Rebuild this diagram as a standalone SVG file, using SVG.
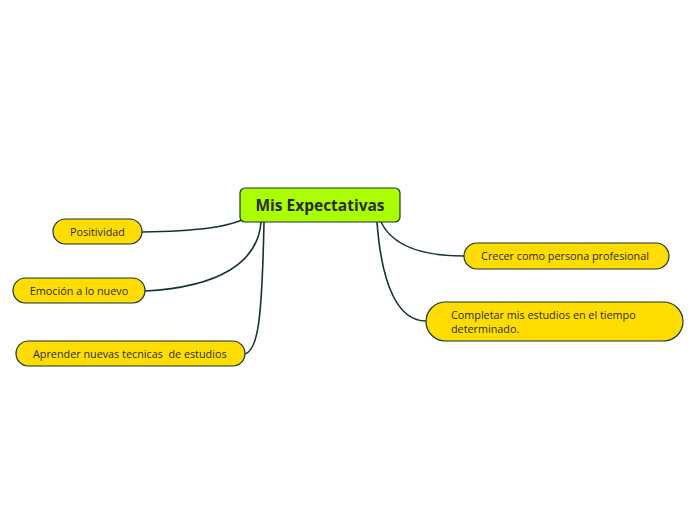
<svg xmlns="http://www.w3.org/2000/svg" width="696" height="520" viewBox="0 0 696 520">
<style>
.c{fill:none;stroke:#173232;stroke-width:1.6}
.n{fill:#ffdd00;stroke:#173232;stroke-width:1.2}
.r{fill:#aaff00;stroke:#173232;stroke-width:1.2}
.t{font-family:"Open Sans","Noto Sans",sans-serif;font-size:10.8px;fill:#2b2b2b;white-space:pre}
.h{font-family:"Open Sans","Noto Sans",sans-serif;font-size:15.5px;font-weight:bold;fill:#2b2b2b}
</style>
<rect width="696" height="520" fill="#ffffff"/>
<g id="connectors">
<path class="c" d="M142,232 C200,231 225,227 242,220"/>
<path class="c" d="M145,291 C220,287 258,262 261,222"/>
<path class="c" d="M245,354 C258,350 262,320 264,222"/>
<path class="c" d="M381,222 C392,245 420,256 464,256"/>
<path class="c" d="M377,222 C382,290 400,321 426,321"/>
</g>
<g id="root">
<rect class="r" x="240" y="188" width="160" height="34" rx="5"/>
<text class="h" x="320" y="211" text-anchor="middle">Mis Expectativas</text>
</g>
<g id="n1">
<rect class="n" x="53" y="219" width="89" height="25" rx="12.5"/>
<text class="t" x="97.5" y="235.5" text-anchor="middle">Positividad</text>
</g>
<g id="n2">
<rect class="n" x="13" y="278" width="132" height="25" rx="12.5"/>
<text class="t" x="79" y="294.5" text-anchor="middle">Emoción a lo nuevo</text>
</g>
<g id="n3">
<rect class="n" x="16" y="341" width="229" height="25" rx="12.5"/>
<text class="t" x="33" y="357.5" xml:space="preserve">Aprender nuevas tecnicas  de estudios</text>
</g>
<g id="n4">
<rect class="n" x="464" y="243" width="205" height="26" rx="13"/>
<text class="t" x="565" y="259.5" text-anchor="middle">Crecer como persona profesional</text>
</g>
<g id="n5">
<rect class="n" x="426" y="302" width="257" height="39" rx="19.5"/>
<text class="t" x="451" y="318.5">Completar mis estudios en el tiempo</text>
<text class="t" x="451" y="332.5">determinado.</text>
</g>
</svg>
